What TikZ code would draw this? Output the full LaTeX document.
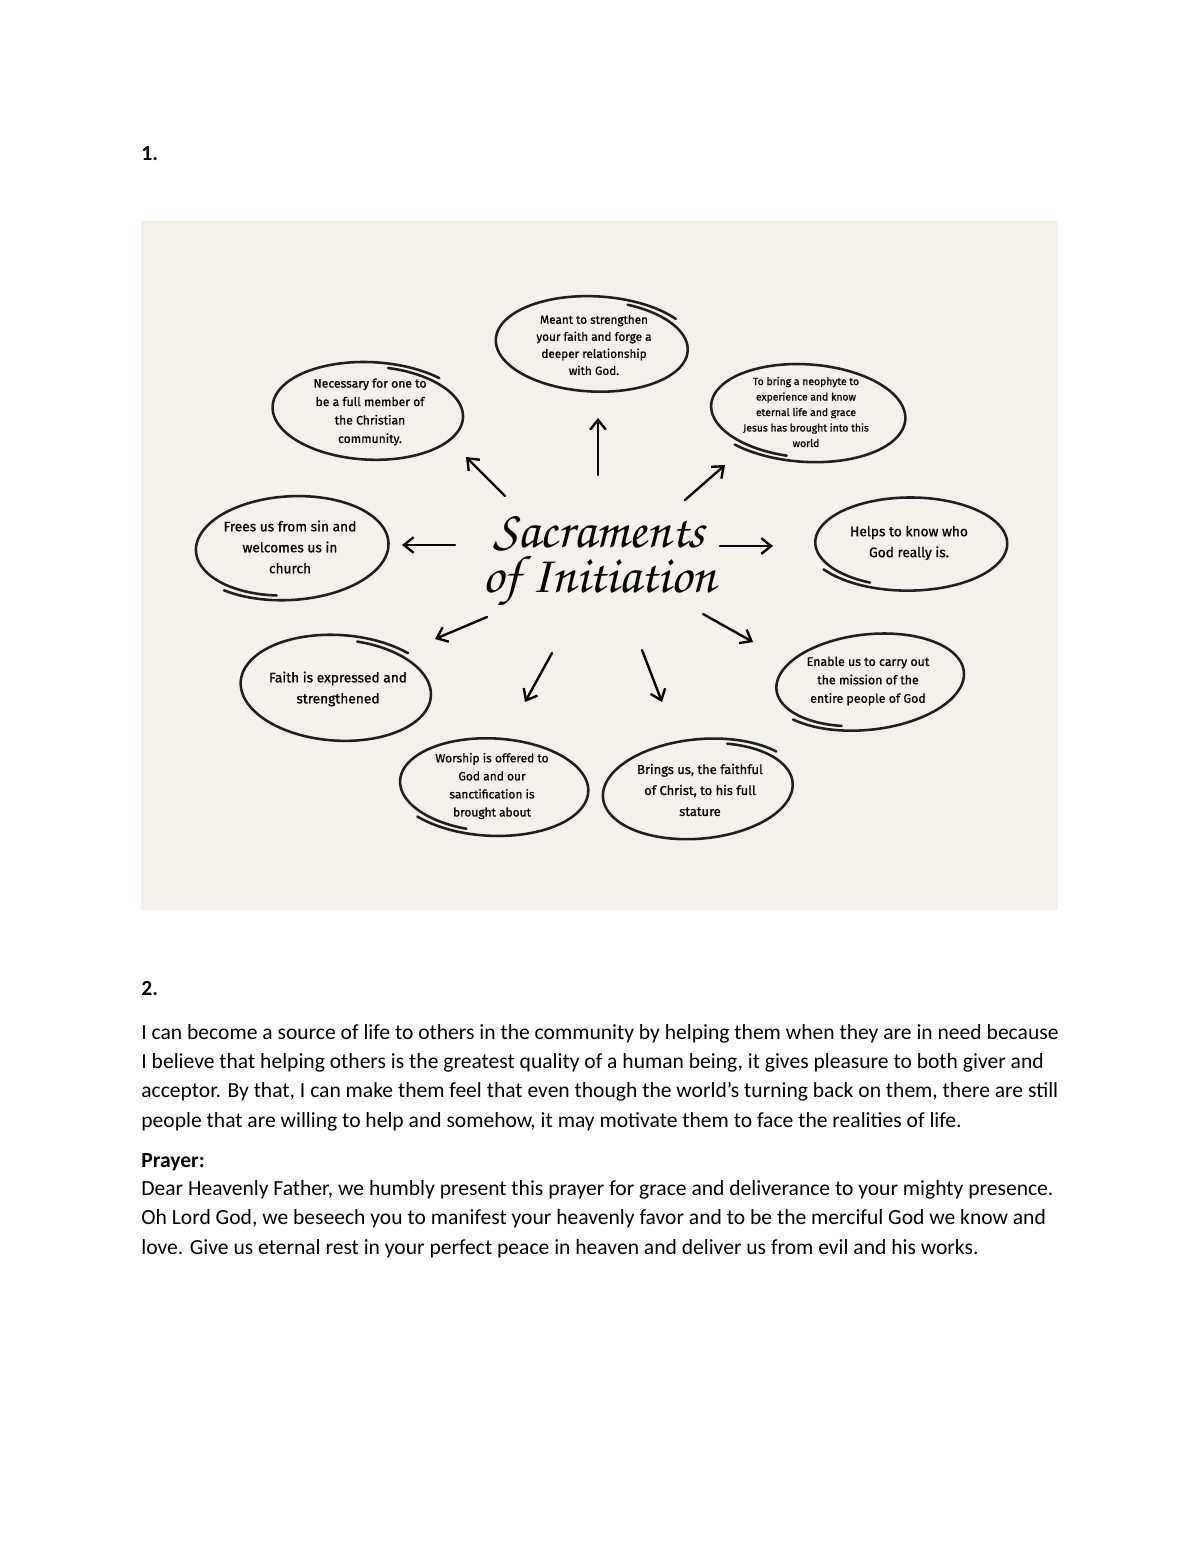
\documentclass[tikz,border=0pt]{standalone}
\usepackage{fontspec}
\setmainfont{Carlito}
\newfontfamily\ovalfont{Fira Sans}[FakeBold=0.9]
\newfontfamily\titlefont{TeX Gyre Chorus}
\usetikzlibrary{arrows.meta}

\definecolor{bgbeige}{RGB}{244,240,235}

\begin{document}
\begin{tikzpicture}[x=0.51pt, y=-0.51pt,
    every node/.style={inner sep=0pt},
    para/.style={anchor=base west, align=left, font=\fontsize{11}{14.8}\selectfont},
    ovaltext/.style 2 args={align=center, font=\ovalfont\fontsize{#1}{#2}\selectfont},
    oval/.style={line width=1.3pt, black!88, line cap=round, line join=round},
    arr/.style={-{Straight Barb[length=5pt,width=8pt]}, line width=1.2pt, line cap=round}]
    \useasboundingbox (0,0) rectangle (1200,1553);
    % picture panel
    \fill[bgbeige] (141,221) rectangle (1058,910);
    \node[para] (num1) at (141,161) {\textbf{1.}};
    \node[font=\titlefont\fontsize{27}{23}\selectfont, align=center] (title) at (599,561)
      {Sacraments\\of Initiation};
    \node[ovaltext={6}{8.7}] (meant) at (594,345)
      {Meant to strengthen\\your faith and forge a\\deeper relationship\\with God.};
    \node[ovaltext={5.3}{7.9}] (neophyte) at (806,412)
      {To bring a neophyte to\\experience and know\\eternal life and grace\\Jesus has brought into this\\world};
    \node[ovaltext={7}{10.7}] (helps) at (909,543) {Helps to know who\\God really is.};
    \node[ovaltext={6.3}{9.4}] (enable) at (868,681)
      {Enable us to carry out\\the mission of the\\entire people of God};
    \node[ovaltext={6.6}{10.7}] (brings) at (700,790)
      {Brings us, the faithful\\of Christ, to his full\\stature};
    \node[ovaltext={6.1}{9.2}] (worship) at (492,786)
      {Worship is offered to\\God and our\\sanctification is\\brought about};
    \node[ovaltext={7}{10.7}] (faith) at (338,689) {Faith is expressed and\\strengthened};
    \node[ovaltext={7}{10.7}] (frees) at (290,547) {Frees us from sin and\\welcomes us in\\church};
    \node[ovaltext={6.2}{9.4}] (necessary) at (370,412)
      {Necessary for one to\\be a full member of\\the Christian\\community.};
    % sketched rings round the texts
    \foreach \n/\rx/\ry/\rot/\s in {meant/97/47/-3/290, neophyte/98/48/-4/100,
        helps/97/46/0/115, enable/95/47/6/110, brings/96/49/5/290,
        worship/95/48/-3/105, faith/96/52/-4/280, frees/97/51/3/100,
        necessary/96/48/-3/280}
      \draw[oval, shift={(\n)}, rotate=\rot] plot[smooth, samples=100,
          domain=\s:\s+392, variable=\t]
        ({\rx*(0.95+0.1*(\t-\s)/392)*cos(\t)}, {\ry*(0.95+0.1*(\t-\s)/392)*sin(\t)});
    % arrows out of the title
    \foreach \i/\tx/\ty/\hx/\hy in {1/598/475/598/418, 2/505/496/466/457,
        3/685/500/725/465, 4/455/545/402/545, 5/720/546/773/546,
        6/487/617/435/639, 7/552/653/525/702, 8/642/650/662/702, 9/703/614/753/642} {
      \coordinate (tail\i) at (\tx,\ty);
      \coordinate (head\i) at (\hx,\hy);
      \draw[arr] (tail\i) -- (head\i);
    }
    % written answers (base = last line)
    \node[para] (num2) at (141,995) {\textbf{2.}};
    \node[para] (answer) at (141,1127)
      {I can become a source of life to others in the community by helping them when they are in need because\\
       I believe that helping others is the greatest quality of a human being, it gives pleasure to both giver and\\
       acceptor. By that, I can make them feel that even though the world’s turning back on them, there are still\\
       people that are willing to help and somehow, it may motivate them to face the realities of life.};
    \node[para] (prayerhead) at (141,1167) {\textbf{Prayer:}};
    \node[para] (prayer) at (141,1254)
      {Dear Heavenly Father, we humbly present this prayer for grace and deliverance to your mighty presence.\\
       Oh Lord God, we beseech you to manifest your heavenly favor and to be the merciful God we know and\\
       love. Give us eternal rest in your perfect peace in heaven and deliver us from evil and his works.};
\end{tikzpicture}
\end{document}
